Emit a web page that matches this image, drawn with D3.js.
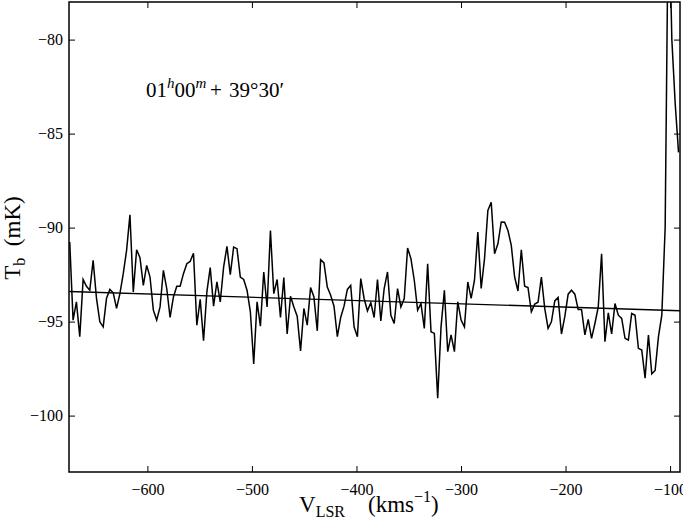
<!DOCTYPE html>
<html><head><meta charset="utf-8">
<script src="https://cdn.jsdelivr.net/npm/d3@7"></script>
<style>body{margin:0;background:#fff}</style>
</head><body>
<svg id="c" width="683" height="519"></svg>
<script>
const velocity = [
-674.3,-671.1,-667.9,-664.7,-661.5,-658.3,-655.1,-651.9,-648.7,-645.5,
-642.3,-639.1,-635.9,-632.7,-629.5,-626.3,-623.1,-619.9,-616.7,-613.5,
-610.3,-607.1,-603.9,-600.7,-597.5,-594.3,-591.1,-587.9,-584.7,-581.5,
-578.3,-575.1,-571.9,-568.7,-565.5,-562.3,-559.1,-555.9,-552.7,-549.5,
-546.3,-543.1,-539.9,-536.7,-533.5,-530.3,-527.1,-523.9,-520.7,-517.5,
-514.3,-511.1,-507.9,-504.7,-501.5,-498.3,-495.1,-491.9,-488.7,-485.5,
-482.3,-479.1,-475.9,-472.7,-469.5,-466.3,-463.1,-459.9,-456.7,-453.5,
-450.3,-447.1,-443.9,-440.7,-437.5,-434.3,-431.1,-427.9,-424.7,-421.5,
-418.3,-415.1,-411.9,-408.7,-405.5,-402.3,-399.1,-395.9,-392.7,-389.5,
-386.3,-383.1,-379.9,-376.7,-373.5,-370.3,-367.1,-363.9,-360.7,-357.5,
-354.3,-351.1,-347.9,-344.7,-341.5,-338.3,-335.1,-331.9,-328.7,-325.5,
-322.3,-319.1,-315.9,-312.7,-309.5,-306.3,-303.1,-299.9,-296.7,-293.5,
-290.3,-287.1,-283.9,-280.7,-277.5,-274.3,-271.1,-267.9,-264.7,-261.5,
-258.3,-255.1,-251.9,-248.7,-245.5,-242.3,-239.1,-235.9,-232.7,-229.5,
-226.3,-223.1,-219.9,-216.7,-213.5,-210.3,-207.1,-203.9,-200.7,-197.5,
-194.3,-191.1,-187.9,-184.7,-181.5,-178.3,-175.1,-171.9,-168.7,-165.5,
-162.3,-159.1,-155.9,-152.7,-149.5,-146.3,-143.1,-139.9,-136.7,-133.5,
-130.3,-127.1,-123.9,-120.7,-117.5,-114.3,-111.1,-107.9,-104.7,-101.5,
-98.3,-95.1,-91.9
];
const tb = [
-90.77,-94.92,-93.95,-95.80,-92.76,-93.12,-93.33,-91.74,-93.77,-95.01,
-95.28,-93.76,-93.29,-93.47,-94.30,-93.51,-92.45,-91.21,-89.32,-93.42,
-91.18,-91.60,-93.07,-92.01,-92.63,-94.39,-94.92,-94.22,-92.27,-93.24,
-94.78,-93.69,-93.12,-93.12,-92.45,-91.92,-91.80,-91.36,-95.19,-93.82,
-96.02,-93.42,-92.13,-94.18,-92.89,-93.95,-92.10,-91.00,-92.50,-91.04,
-91.12,-92.63,-92.76,-93.33,-94.48,-97.25,-93.95,-95.24,-92.36,-94.22,
-90.15,-93.51,-92.76,-94.78,-92.66,-95.66,-93.65,-94.22,-94.71,-96.56,
-94.30,-95.19,-93.19,-93.69,-95.49,-91.71,-91.88,-93.16,-93.60,-94.18,
-95.80,-94.78,-94.18,-93.29,-93.07,-95.28,-95.80,-92.71,-93.77,-94.43,
-94.00,-94.78,-92.76,-94.96,-93.24,-92.36,-94.66,-95.10,-93.24,-94.22,
-93.77,-91.09,-91.65,-92.80,-94.39,-94.04,-95.36,-91.92,-95.54,-95.63,
-99.07,-95.28,-93.33,-96.60,-95.71,-96.60,-93.95,-94.92,-95.28,-92.89,
-93.77,-92.80,-90.24,-93.24,-91.65,-89.09,-88.65,-91.39,-90.86,-89.70,
-89.71,-90.15,-90.95,-92.63,-93.37,-91.18,-93.12,-93.19,-94.48,-94.07,
-93.97,-92.63,-94.30,-95.36,-95.01,-93.90,-93.72,-95.66,-94.74,-93.54,
-93.33,-93.54,-94.35,-94.35,-95.71,-94.88,-95.89,-95.10,-94.22,-91.39,
-96.07,-94.53,-95.66,-94.04,-94.66,-94.83,-95.89,-95.98,-94.57,-94.66,
-96.42,-96.51,-98.01,-95.71,-97.78,-97.60,-95.80,-94.66,-90.00,-72.0,
-80.0,-83.4,-86.0
];
const fitVelocity = [-675, -90.5];
const fitTb = [-93.40, -94.42];
const xTicks = [-600, -500, -400, -300, -200, -100];
const yTicks = [-100, -95, -90, -85, -80];
const xDomain = [-675, -90.5];
const yDomain = [-103, -78];

const FONT = "'Liberation Serif', 'DejaVu Serif', serif";
const svg = d3.select("#c");
const m = {l: 69, r: 680, t: 2, b: 472};
const x = d3.scaleLinear().domain(xDomain).range([m.l, m.r]);
const y = d3.scaleLinear().domain(yDomain).range([m.b, m.t]);

svg.append("defs").append("clipPath").attr("id", "clip")
  .append("rect").attr("x", m.l).attr("y", m.t).attr("width", m.r - m.l).attr("height", m.b - m.t);

const pts = velocity.map((v, i) => [v, tb[i]]);
const line = d3.line().x(d => x(d[0])).y(d => y(d[1]));
const g = svg.append("g").attr("clip-path", "url(#clip)");
g.append("path").datum(pts).attr("d", line)
  .attr("fill", "none").attr("stroke", "#000").attr("stroke-width", 1.5).attr("stroke-linejoin", "miter");
g.append("path").datum(fitVelocity.map((v, i) => [v, fitTb[i]])).attr("d", line)
  .attr("fill", "none").attr("stroke", "#000").attr("stroke-width", 1.4);

function styleAxis(sel) {
  sel.select(".domain").remove();
  sel.attr("font-family", FONT).attr("font-size", 16);
  sel.selectAll(".tick line").attr("stroke", "#000").attr("stroke-width", 1);
  sel.selectAll("text").attr("fill", "#000");
}
svg.append("g").attr("transform", `translate(0,${m.b})`)
  .call(d3.axisBottom(x).tickValues(xTicks).tickSize(-6).tickPadding(12)).call(styleAxis);
svg.append("g").attr("transform", `translate(0,${m.t})`)
  .call(d3.axisTop(x).tickValues(xTicks).tickSize(-6).tickFormat("")).call(styleAxis);
svg.append("g").attr("transform", `translate(${m.l},0)`)
  .call(d3.axisLeft(y).tickValues(yTicks).tickSize(-6).tickPadding(6)).call(styleAxis);
svg.append("g").attr("transform", `translate(${m.r},0)`)
  .call(d3.axisRight(y).tickValues(yTicks).tickSize(-6).tickFormat("")).call(styleAxis);

svg.append("rect").attr("x", m.l).attr("y", m.t).attr("width", m.r - m.l).attr("height", m.b - m.t)
  .attr("fill", "none").attr("stroke", "#000").attr("stroke-width", 1.5);

// x label
const xl = svg.append("text").attr("x", 299).attr("y", 512)
  .attr("font-family", FONT).attr("font-size", 23);
xl.append("tspan").text("V");
xl.append("tspan").attr("font-size", 16).attr("dy", 5).text("LSR");
xl.append("tspan").attr("x", 368).attr("dy", -5).text("(kms");
xl.append("tspan").attr("font-size", 16).attr("dy", -10).text("\u22121");
xl.append("tspan").attr("dy", 10).text(")");

// y label
const yl = svg.append("text").attr("transform", `translate(20,238) rotate(-90)`)
  .attr("text-anchor", "middle").attr("font-family", FONT).attr("font-size", 23);
yl.append("tspan").text("T");
yl.append("tspan").attr("font-size", 16).attr("dy", 5).text("b");
yl.append("tspan").attr("dy", -5).text("\u2002(mK)");

// annotation
const an = svg.append("text").attr("x", 146).attr("y", 97)
  .attr("font-family", FONT).attr("font-size", 21);
an.append("tspan").text("01");
an.append("tspan").attr("font-size", 15).attr("font-style", "italic").attr("dy", -9).text("h");
an.append("tspan").attr("dy", 9).text("00");
an.append("tspan").attr("font-size", 15).attr("font-style", "italic").attr("dy", -9).text("m");
an.append("tspan").attr("x", 210).attr("dy", 9).text("+");
an.append("tspan").attr("x", 229).text("39\u00b030\u2032");
</script>
</body></html>
